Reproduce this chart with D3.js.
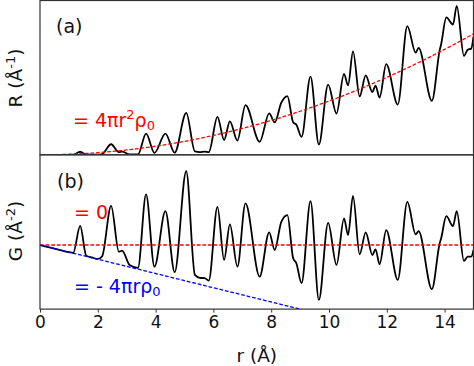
<!DOCTYPE html>
<html><head><meta charset="utf-8">
<script src="https://cdn.jsdelivr.net/npm/d3@7"></script>
<style>html,body{margin:0;padding:0;background:#fff;}svg{display:block;font-family:"DejaVu Sans",sans-serif;}</style>
</head><body><svg id="c" width="474" height="366"></svg>
<script>
// radial positions (Å)
const rVals = [0,0.5,1.0,1.15,1.39,1.60,1.8,2.0,2.15,2.46,2.73,2.84,3.10,3.39,3.67,3.96,4.34,4.66,5.06,5.36,5.53,5.70,5.84,6.14,6.37,6.57,6.83,7.11,7.60,7.93,8.12,8.35,8.56,8.76,8.87,9.05,9.36,9.65,9.97,10.26,10.52,10.66,10.83,11.06,11.27,11.50,11.61,11.75,11.98,12.38,12.71,13.0,13.10,13.56,13.83,13.88,14.06,14.29,14.42,14.67,14.80,14.92,15.0];
// reduced PDF G(r)
const gVals = [0,-0.5,-1.0,-1.1,2.7,-1.5,-1.75,-1.95,-1.6,5.5,-0.94,-0.8,-2.8,-3.2,7.1,-3.05,4.76,-3.82,10.36,-4.2,-4.6,-4.66,-5.0,5.36,-2.1,2.9,-3.04,5.84,-4.44,1.78,-0.7,3.26,4.2,-1.86,-2.56,-5.36,6.16,-7.7,3.12,-2.8,3.74,1.4,6.9,-1.3,1.78,-1.4,-0.6,-2.7,2.1,-4.9,6.06,1.5,1.96,-6.2,0.24,0.94,4.06,2.66,4.76,-2.24,-1.64,-1.64,-0.7];
// radial distribution function R(r)
const rdfVals = [0,0,0,0.06,5.7,0.16,0.09,0.1,1.2,19.6,4.9,5.8,0.9,0.6,39.5,3.6,39.5,3.9,78,6.2,5.1,5.9,4.9,70.6,27.5,62,26.5,92.3,24.2,77,60.3,97,109.2,60.5,56,33.5,145.3,19.2,130.7,76.8,150.7,129,192.5,108.5,147.6,116.7,128.7,106.6,168.7,93.5,239.5,190,199,100.5,194.6,205.7,255.5,242.3,277,184,195.5,197.5,220];
const xTicks = [0,2,4,6,8,10,12,14];
const fourPiRho0 = 1; // 4πρ0 in plot units
const refR = d3.range(0, 15.01, 0.1);

const svg = d3.select("#c");
const L = 40, Rt = 473.5, T1 = 0.5, M = 154.8, B = 309.1;
const x = d3.scaleLinear([0,15],[L,Rt]);
const yR = d3.scaleLinear([0,287],[M,T1]);
const yG = d3.scaleLinear([-9,12.67],[B,M]);

const defs = svg.append("defs");
defs.append("clipPath").attr("id","cpA").append("rect").attr("x",L).attr("y",T1).attr("width",Rt-L).attr("height",M-T1);
defs.append("clipPath").attr("id","cpB").append("rect").attr("x",L).attr("y",M).attr("width",Rt-L).attr("height",B-M);

const idx = d3.range(rVals.length);
const lineR = d3.line().x(i=>x(rVals[i])).y(i=>yR(rdfVals[i])).curve(d3.curveMonotoneX);
const lineG = d3.line().x(i=>x(rVals[i])).y(i=>yG(gVals[i])).curve(d3.curveMonotoneX);

const gA = svg.append("g").attr("clip-path","url(#cpA)");
gA.append("path").attr("d",lineR(idx)).attr("fill","none").attr("stroke","#000").attr("stroke-width",1.8);
gA.append("path").attr("d",d3.line().x(r=>x(r)).y(r=>yR(fourPiRho0*r*r))(refR))
  .attr("fill","none").attr("stroke","#ff0000").attr("stroke-width",1.3).attr("stroke-dasharray","3.7,1.9");

const gB = svg.append("g").attr("clip-path","url(#cpB)");
gB.append("path").attr("d",lineG(idx)).attr("fill","none").attr("stroke","#000").attr("stroke-width",1.8);
gB.append("path").attr("d",d3.line().x(r=>x(r)).y(r=>yG(0))(refR))
  .attr("fill","none").attr("stroke","#ff0000").attr("stroke-width",1.3).attr("stroke-dasharray","3.7,1.9");
gB.append("path").attr("d",d3.line().x(r=>x(r)).y(r=>yG(-fourPiRho0*r))(refR))
  .attr("fill","none").attr("stroke","#0000ff").attr("stroke-width",1.3).attr("stroke-dasharray","3.7,1.9");

// frames
svg.append("rect").attr("x",L).attr("y",T1).attr("width",Rt-L).attr("height",M-T1).attr("fill","none").attr("stroke","#333").attr("stroke-width",1.2);
svg.append("rect").attr("x",L).attr("y",M).attr("width",Rt-L).attr("height",B-M).attr("fill","none").attr("stroke","#333").attr("stroke-width",1.2);

// x axis
const ax = svg.append("g").attr("transform",`translate(0,${B})`)
  .call(d3.axisBottom(x).tickValues(xTicks).tickFormat(d3.format("d")).tickSize(3.5).tickPadding(3));
ax.select(".domain").remove();
ax.selectAll("line").attr("stroke","#333");
ax.selectAll("text").attr("font-family","DejaVu Sans").attr("font-size",17).attr("fill","#111");

// labels
svg.append("text").attr("x",(L+Rt)/2).attr("y",362).attr("text-anchor","middle").attr("font-size",18.5).attr("fill","#111").text("r (Å)");

const yl1 = svg.append("text").attr("transform","translate(22,78) rotate(-90)").attr("text-anchor","middle").attr("font-size",18.5).attr("fill","#111");
yl1.append("tspan").text("R (Å");
yl1.append("tspan").attr("dy",-7).attr("font-size",13).text("-1");
yl1.append("tspan").attr("dy",7).text(")");

const yl2 = svg.append("text").attr("transform","translate(22,231) rotate(-90)").attr("text-anchor","middle").attr("font-size",18.5).attr("fill","#111");
yl2.append("tspan").text("G (Å");
yl2.append("tspan").attr("dy",-7).attr("font-size",13).text("-2");
yl2.append("tspan").attr("dy",7).text(")");

svg.append("text").attr("x",56).attr("y",33).attr("font-size",19).attr("fill","#111").text("(a)");
svg.append("text").attr("x",57).attr("y",188).attr("font-size",19).attr("fill","#111").text("(b)");

const t1 = svg.append("text").attr("x",73).attr("y",127).attr("font-size",19).attr("fill","#ff0000");
t1.append("tspan").text("= 4πr");
t1.append("tspan").attr("dy",-8).attr("font-size",13).text("2");
t1.append("tspan").attr("dy",8).text("ρ");
t1.append("tspan").attr("dy",3).attr("font-size",13).text("0");

svg.append("text").attr("x",74).attr("y",219).attr("font-size",19).attr("fill","#ff0000").text("= 0");

const t3 = svg.append("text").attr("x",74).attr("y",293).attr("font-size",19).attr("fill","#0000ff");
t3.append("tspan").text("= - 4πrρ");
t3.append("tspan").attr("dy",3).attr("font-size",13).text("0");
</script></body></html>
